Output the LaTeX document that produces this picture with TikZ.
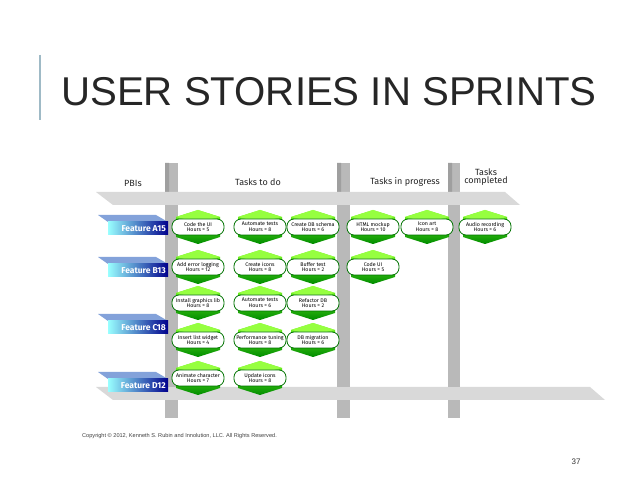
\documentclass[tikz,border=0pt]{standalone}
\usepackage{fontspec}
\setmainfont{Liberation Sans}
\newfontfamily\hand{Fira Sans}
\begin{document}
\begin{tikzpicture}[x=1pt,y=-1pt,
  hdr/.style={font=\hand\fontsize{9}{10}\selectfont, align=center, text=black!85},
  lbl/.style={draw=green!45!black, line width=0.8pt, fill=white, rounded corners=7pt, minimum width=52pt, minimum height=16pt, inner sep=0.5pt, align=center, font=\hand\fontsize{5.3}{5.8}\selectfont},
  feat/.style={font=\hand\bfseries\fontsize{8.5}{9}\selectfont, text=white, anchor=east, inner sep=1pt}]
\useasboundingbox (0,0) rectangle (638,478);
\fill[white] (0,0) rectangle (638,478);
% title
\draw[line width=1.5pt, color=cyan!30!gray!70] (40,55) -- (40,120);
\node[anchor=base west, inner sep=0, font=\fontsize{40.2}{42}\selectfont, text=black!85] (title) at (61,106) {USER STORIES IN SPRINTS};
% pillars
\foreach \a/\b in {165/178,337/350,448/460}{
  \fill[gray!55] (\a,163) rectangle (\b,418);
  \fill[gray!75] (\a,163) -- (\a+4,163) -- (\a+4,418) -- (\a,414) -- cycle;
}
% horizontal bars
\fill[gray!30] (96,192) -- (505,192) -- (520,205) -- (113,205) -- cycle;
\fill[gray!30] (96,387) -- (590,387) -- (605,400) -- (113,400) -- cycle;
\foreach \a/\b in {165/178,337/350,448/460}{
  \fill[gray!55] (\a,205) rectangle (\b,387);
  \fill[gray!55] (\a,400) rectangle (\b,418);
}
% headers
\node[hdr] (h1) at (133,183) {PBIs};
\node[hdr] (h2) at (258,182) {Tasks to do};
\node[hdr] (h3) at (405,182) {Tasks in progress};
\node[hdr] (h4) at (486,177) {Tasks\\[-2pt]completed};
% features
\foreach \y/\t [count=\i] in {226/Feature A15,268/Feature B13,325/Feature C18,383/Feature D12}{
  \fill[cyan!45!blue!50] (98,\y-11) -- (156,\y-11) -- (168,\y-4) -- (108,\y-4) -- cycle;
  \shade[left color=cyan!40!white, right color=blue!55!black] (108,\y-4) rectangle (168,\y+9);
  \node[feat] (f\i) at (167,\y+2.5) {\t};
}
% tasks
\foreach \x/\y/\t [count=\i] in {
  198/227/Code the UI\\Hours = 5,
  260/227/Automate tests\\Hours = 8,
  313/227/Create DB schema\\Hours = 6,
  373/227/HTML mockup\\Hours = 10,
  427/227/Icon art\\Hours = 8,
  485/227/Audio recording\\Hours = 6,
  198/267/Add error logging\\Hours = 12,
  260/267/Create icons\\Hours = 8,
  313/267/Buffer test\\Hours = 2,
  373/267/Code UI\\Hours = 5,
  198/303/Install graphics lib\\Hours = 8,
  260/303/Automate tests\\Hours = 6,
  313/303/Refactor DB\\Hours = 2,
  198/340/Insert list widget\\Hours = 4,
  260/340/Performance tuning\\Hours = 8,
  313/340/DB migration\\Hours = 6,
  198/378/Animate character\\Hours = 7,
  260/378/Update icons\\Hours = 8}{
  \shade[top color=green!60!yellow!85!white, bottom color=green!55!black] (\x-22,\y-10) -- (\x,\y-17) -- (\x+22,\y-10) -- (\x+22,\y+10) -- (\x,\y+17) -- (\x-22,\y+10) -- cycle;
  \fill[green!55!yellow!75!white] (\x-22,\y-10) -- (\x,\y-17) -- (\x+22,\y-10) -- (\x,\y-5) -- cycle;
  \node[lbl] (t\i) at (\x,\y) {\t};
}
\node[anchor=west, font=\fontsize{5.6}{6}\selectfont, text=black!75, inner sep=0] (copy) at (82,436) {Copyright © 2012, Kenneth S. Rubin and Innolution, LLC. All Rights Reserved.};
\node[font=\fontsize{8}{9}\selectfont, text=black!80] (pg) at (576,462) {37};
\end{tikzpicture}
\end{document}
